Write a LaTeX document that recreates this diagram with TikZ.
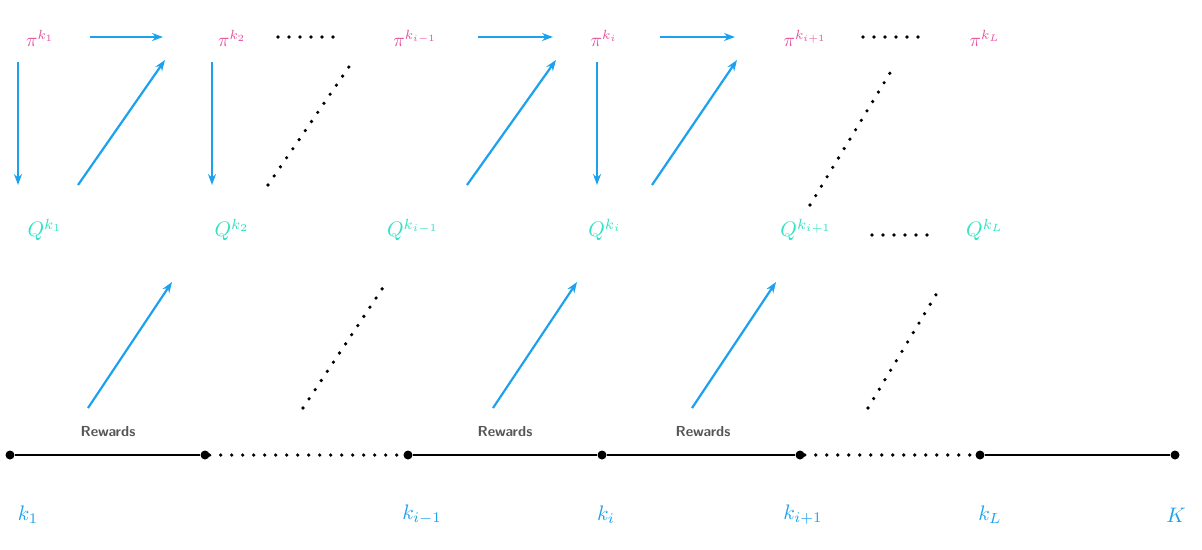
\documentclass[tikz,border=0pt]{standalone}
\usepackage{fontspec}
\usetikzlibrary{arrows.meta}
\definecolor{pic}{HTML}{E6519B}
\definecolor{qc}{HTML}{2FE2C2}
\definecolor{bl}{HTML}{1BA1EE}
\definecolor{gr}{HTML}{555555}
\begin{document}
\begin{tikzpicture}[x=1pt,y=-1pt,
 pl/.style={text=pic,scale=1.9,inner sep=0,transform shape=false},
 ql/.style={text=qc,scale=2.1,inner sep=0},
 kl/.style={text=bl,scale=2.1,inner sep=0},
 ar/.style={bl,line width=2.2pt,-{Stealth[length=11pt,width=8pt]}},
 dl/.style={line width=3.6pt,dash pattern=on 0pt off 11pt,line cap=round},
 dot/.style={circle,fill=black,inner sep=0,minimum size=9pt},
 rw/.style={text=gr,font=\sffamily\bfseries,scale=1.45}]
\useasboundingbox (0,0) rectangle (1202,549);
% pi
\node[pl] (p1) at (40,38) {$\pi^{k_1}$};
\node[pl] (p2) at (232,38) {$\pi^{k_2}$};
\node[pl] (p3) at (415,38) {$\pi^{k_{i-1}}$};
\node[pl] (p4) at (604,38) {$\pi^{k_i}$};
\node[pl] (p5) at (805,38) {$\pi^{k_{i+1}}$};
\node[pl] (p6) at (985,38) {$\pi^{k_L}$};
% Q
\node[ql] (q1) at (45,230) {$Q^{k_1}$};
\node[ql] (q2) at (232,230) {$Q^{k_2}$};
\node[ql] (q3) at (413,230) {$Q^{k_{i-1}}$};
\node[ql] (q4) at (605,230) {$Q^{k_i}$};
\node[ql] (q5) at (806,230) {$Q^{k_{i+1}}$};
\node[ql] (q6) at (985,230) {$Q^{k_L}$};
% timeline
\node[dot] (t1) at (10,455) {};
\node[dot] (t2) at (205,455) {};
\node[dot] (t3) at (408,455) {};
\node[dot] (t4) at (602,455) {};
\node[dot] (t5) at (800,455) {};
\node[dot] (t6) at (980,455) {};
\node[dot] (t7) at (1175,455) {};
\draw[line width=2.4pt] (t1)--(t2) (t3)--(t4)--(t5) (t6)--(t7);
\draw[dl] (t2)--(t3) (t5)--(t6);
\node[kl] (k1) at (28,515) {$k_1$};
\node[kl] (k2) at (422,515) {$k_{i-1}$};
\node[kl] (k3) at (606,515) {$k_i$};
\node[kl] (k4) at (803,515) {$k_{i+1}$};
\node[kl] (k5) at (990,515) {$k_L$};
\node[kl] (k6) at (1176,515) {$K$};
\node[rw] (r1) at (108,432) {Rewards};
\node[rw] (r2) at (505,432) {Rewards};
\node[rw] (r3) at (703,432) {Rewards};
% arrow endpoints
\foreach \n/\x/\y in {a1/90/37,a2/163/37,a3/478/37,a4/553/37,a5/660/37,a6/735/37,
 b1/18/62,b2/18/185,b3/212/62,b4/212/185,b5/597/62,b6/597/185,
 c1/78/185,c2/165/60,c3/467/185,c4/556/60,c5/652/185,c6/737/60,
 d1/88/408,d2/172/282,d3/493/408,d4/577/282,d5/692/408,d6/776/282,
 e1/268/185,e2/355/58,e3/303/408,e4/388/280,e5/810/205,e6/893/68,e7/868/408,e8/940/288,
 f1/278/37,f2/342/37,f3/863/37,f4/925/37,f5/872/235,f6/935/235}
 {\coordinate (\n) at (\x,\y);}
\foreach \s/\t in {a1/a2,a3/a4,a5/a6,b1/b2,b3/b4,b5/b6,c1/c2,c3/c4,c5/c6,d1/d2,d3/d4,d5/d6}
 \draw[ar] (\s)--(\t);
\draw[dl] (e1)--(e2) (e3)--(e4) (e5)--(e6) (e7)--(e8) (f1)--(f2) (f3)--(f4) (f5)--(f6);
\end{tikzpicture}
\end{document}
